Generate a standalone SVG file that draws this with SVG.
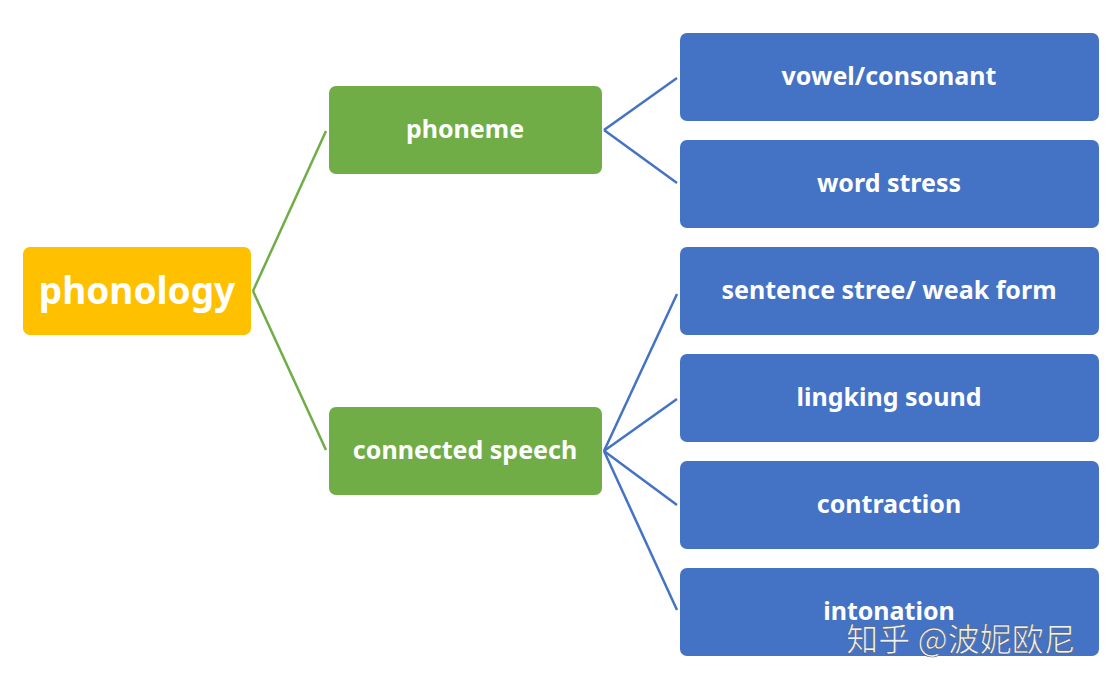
<svg xmlns="http://www.w3.org/2000/svg" width="1111" height="687" viewBox="0 0 1111 687">
<style>
.b{fill:#4472C4}.g{fill:#70AD47}.y{fill:#FFC000}
text{font-family:"Noto Sans","Open Sans",sans-serif;font-weight:bold;fill:#fff;text-anchor:middle;dominant-baseline:central;font-size:25px}
.cg line{stroke:#70AD47;stroke-width:2.5}.cb line{stroke:#4472C4;stroke-width:2.5}
</style>
<rect width="1111" height="687" fill="#fff"/>
<g id="connectors">
<g class="cg"><line x1="253" y1="291" x2="326" y2="131"/><line x1="253" y1="291" x2="326" y2="450"/></g>
<g class="cb"><line x1="604" y1="130" x2="677" y2="78"/><line x1="604" y1="130" x2="677" y2="183"/>
<line x1="604" y1="451" x2="677" y2="294"/><line x1="604" y1="451" x2="677" y2="399"/><line x1="604" y1="451" x2="677" y2="505"/><line x1="604" y1="451" x2="677" y2="610"/></g>
</g>
<g id="phonology"><rect class="y" x="23" y="247" width="228" height="88" rx="7"/><text x="137" y="289" style="font-size:37px">phonology</text></g>
<g id="phoneme"><rect class="g" x="329" y="86" width="273" height="88" rx="7"/><text x="465" y="128">phoneme</text></g>
<g id="connected"><rect class="g" x="329" y="407" width="273" height="88" rx="7"/><text x="465" y="449">connected speech</text></g>
<g id="n1"><rect class="b" x="680" y="33" width="419" height="88" rx="7"/><text x="889" y="75">vowel/consonant</text></g>
<g id="n2"><rect class="b" x="680" y="140" width="419" height="88" rx="7"/><text x="889" y="182">word stress</text></g>
<g id="n3"><rect class="b" x="680" y="247" width="419" height="88" rx="7"/><text x="889" y="289">sentence stree/ weak form</text></g>
<g id="n4"><rect class="b" x="680" y="354" width="419" height="88" rx="7"/><text x="889" y="396">lingking sound</text></g>
<g id="n5"><rect class="b" x="680" y="461" width="419" height="88" rx="7"/><text x="889" y="503">contraction</text></g>
<g id="n6"><rect class="b" x="680" y="568" width="419" height="88" rx="7"/><text x="889" y="610">intonation</text></g>
<text x="961" y="637" style="font-family:'Noto Sans CJK SC',sans-serif;font-weight:normal;font-size:32px;fill:#fff;stroke:#555;stroke-width:0.6;opacity:0.9">知乎 @波妮欧尼</text>
</svg>
